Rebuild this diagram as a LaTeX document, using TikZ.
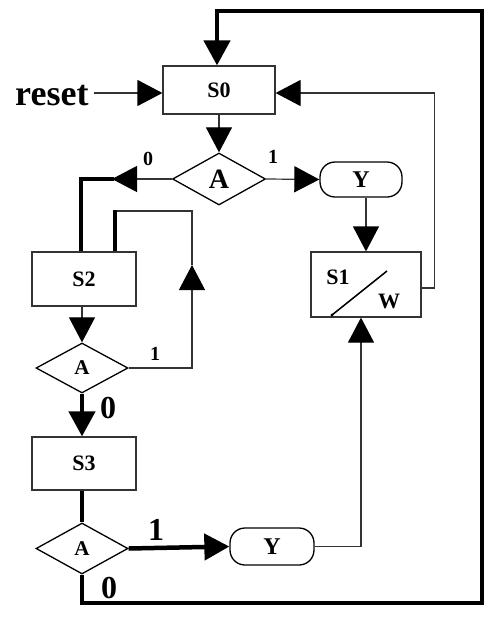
\documentclass[tikz,border=0pt]{standalone}
\usepackage{fontspec}
\setmainfont{Liberation Serif}
\usetikzlibrary{shapes.geometric,arrows.meta,calc}
\definecolor{ln}{HTML}{333333}
\begin{document}
\begin{tikzpicture}[x=1pt,y=-1pt,
  box/.style={draw=ln,line width=1.2pt,rectangle,inner sep=0pt,font=\bfseries\fontsize{22}{22}\selectfont},
  dia/.style={draw=black,line width=1.3pt,diamond,inner sep=0pt,font=\bfseries\fontsize{21}{21}\selectfont},
  oval/.style={draw=black,line width=1.3pt,rectangle,rounded corners=15pt,inner sep=0pt,font=\bfseries\fontsize{24}{24}\selectfont},
  thinln/.style={draw=ln,line width=1.2pt},
  thickln/.style={draw=black,line width=4.5pt},
  tip/.style={-{Triangle[length=25pt,width=26pt,color=black]}},
  lbl/.style={inner sep=0pt,font=\bfseries\fontsize{20}{20}\selectfont},
  biglbl/.style={inner sep=0pt,font=\bfseries\fontsize{32}{32}\selectfont}]
\useasboundingbox (0,0) rectangle (497,622);
% nodes
\node[box,minimum width=112pt,minimum height=48pt] (S0) at (219,90) {S0};
\node[dia,minimum width=93pt,minimum height=52pt,font=\bfseries\fontsize{28}{28}\selectfont] (dA1) at (219,179) {A};
\node[oval,minimum width=82pt,minimum height=35pt] (Y1) at (361,179.5) {Y};
\node[box,minimum width=110pt,minimum height=65pt] (S1) at (366,284.5) {};
\node[inner sep=0pt,font=\bfseries\fontsize{22}{22}\selectfont] (S1t) at (338,277) {S1};
\node[inner sep=0pt,font=\bfseries\fontsize{22}{22}\selectfont] (S1w) at (389,301) {W};
\node[box,minimum width=104pt,minimum height=54pt] (S2) at (84,279) {S2};
\node[dia,minimum width=92pt,minimum height=50pt] (dA2) at (82,368) {A};
\node[box,minimum width=104pt,minimum height=53pt] (S3) at (84,463.5) {S3};
\node[dia,minimum width=92pt,minimum height=51pt] (dA3) at (82,548.5) {A};
\node[oval,minimum width=84pt,minimum height=37pt] (Y2) at (272,546.5) {Y};
\node[inner sep=0pt,anchor=base west,font=\bfseries\fontsize{36}{36}\selectfont] (reset) at (15,105) {reset};
% labels
\node[lbl] (l0a) at (148,159) {0};
\node[lbl] (l1a) at (273,157) {1};
\node[lbl] (l1b) at (155,354) {1};
\node[biglbl] (l0b) at (108,408) {0};
\node[biglbl] (l1c) at (156,530) {1};
\node[biglbl] (l0c) at (109,588) {0};
% S1 slash
\coordinate (sl1) at (332,315);
\coordinate (sl2) at (387,271);
\draw[black,line width=1.5pt] (sl1) -- (sl2);
\fill[black] (sl1) circle (1.6pt);
% coordinates
\coordinate (k1) at (112,179);
\coordinate (k2) at (192,265);
\coordinate (k3) at (115,211);
\coordinate (k4) at (82,603);
\coordinate (k5) at (482,603);
\coordinate (k6) at (482,11);
\coordinate (s0w) at ($(S0.west)+(0,3)$);
\coordinate (s0e) at ($(S0.east)+(0,3)$);
% connectors
\draw[thinln,tip] ($(reset.east |- s0w)+(5,0)$) -- (s0w);
\draw[thinln,tip] (S0.south) -- (dA1.north);
\draw[thinln,tip] (dA1.west) -- (k1);
\draw[thickln] ($(k1)+(2,0)$) -| ($(S2.north)+(-3,0)$);
\draw[thinln,tip] (dA1.east) -- (Y1.west);
\draw[thinln,tip] (S1.north |- Y1.south) -- (S1.north);
\draw[thinln,tip] ($(S1.east)+(0,3.5)$) -- ++(13,0) |- (s0e);
\draw[thinln,tip] (Y2.east) -| ($(S1.south)+(-5,0)$);
\draw[thinln,tip] (dA2.north |- S2.south) -- (dA2.north);
\draw[thinln,tip] (dA2.east) -| (k2);
\draw[thinln] (k2) |- (k3);
\draw[thickln] ($(k3)+(0,-0.6)$) -- (k3 |- S2.north);
\draw[thickln,tip] (dA2.south) -- (dA2.south |- S3.north);
\draw[thickln] (dA3.north |- S3.south) -- (dA3.north);
\draw[thickln,tip] (dA3.east) -- (Y2.west);
\draw[thickln,line join=miter,tip] (dA3.south) -- (k4) -- (k5) -- (k6) -| ($(S0.north)+(-2,0)$);
\end{tikzpicture}
\end{document}
